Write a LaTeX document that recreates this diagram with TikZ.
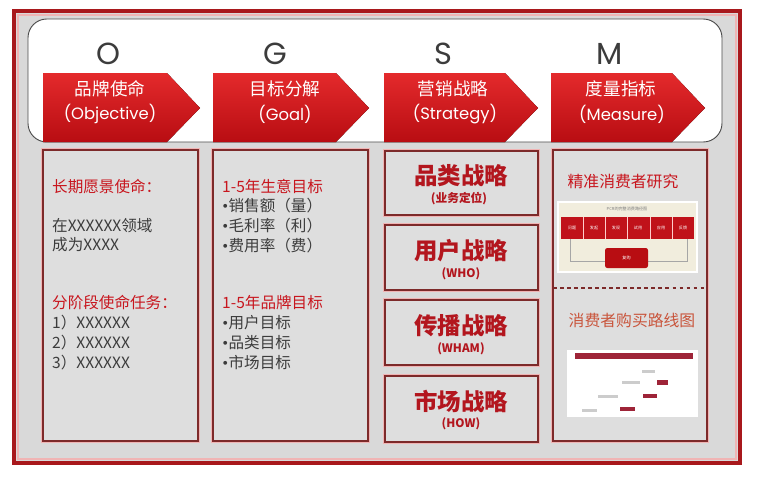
\documentclass[tikz,border=0pt]{standalone}
\usepackage{fontspec}
\setmainfont{Noto Sans CJK SC}
\newfontfamily\latinfont{Poppins}
\definecolor{framered}{HTML}{A8181C}
\definecolor{glowpink}{HTML}{F0B4B4}
\definecolor{bggray}{HTML}{D9D9D9}
\definecolor{panelgray}{HTML}{DEDEDE}
\definecolor{panelline}{HTML}{7D2A2A}
\definecolor{arrowtop}{HTML}{E42A2C}
\definecolor{arrowbot}{HTML}{B80D12}
\definecolor{headred}{HTML}{C8161E}
\definecolor{bodygray}{HTML}{3C3C3C}
\definecolor{stratred}{HTML}{B3161E}
\definecolor{routered}{HTML}{C9553C}
\definecolor{beige}{HTML}{F1EDDD}
\definecolor{bandred}{HTML}{C0121A}
\definecolor{barred}{HTML}{9E2438}
\newcommand{\bul}{{\latinfont •}}
\begin{document}
\begin{tikzpicture}[x=0.03cm,y=-0.03cm,
	panel/.style={draw=panelline, line width=1.1pt, fill=panelgray, preaction={draw=glowpink, line width=3.5pt}},
	arrowbox/.style={top color=arrowtop, bottom color=arrowbot, draw=none},
	letter/.style={font=\latinfont\fontsize{26}{26}\selectfont, text=bodygray, inner sep=0pt},
	arrowcn/.style={font=\fontsize{15}{15}\selectfont, text=white, inner sep=0pt},
	arrowen/.style={font=\latinfont\fontsize{14}{14}\selectfont, text=white, inner sep=0pt},
	body/.style={font=\fontsize{13.3}{13.3}\selectfont, text=bodygray, anchor=west, inner sep=0pt},
	head/.style={body, text=headred},
	strat/.style={font=\bfseries\fontsize{20}{20}\selectfont, text=stratred, inner sep=0pt},
	stratsub/.style={font=\bfseries\fontsize{10}{10}\selectfont, text=stratred, inner sep=0pt},
	tiny/.style={font=\fontsize{3.5}{3.5}\selectfont, text=white, inner sep=0pt}]
	\useasboundingbox (0,0) rectangle (777,477);
	\fill[white] (0,0) rectangle (777,477);
	
	% frame and top band
	\draw[framered, line width=3.5pt, fill=bggray] (14,11) rectangle (740,463);
	\draw[glowpink, line width=2pt] (18,15) rectangle (736,459);
	\draw[black!70, line width=0.8pt, fill=white, rounded corners=16] (28,19) rectangle (722,142);
	
	\node[letter] (o) at (108,54) {O};
	\node[letter] (g) at (275,54) {G};
	\node[letter] (s) at (443,54) {S};
	\node[letter] (m) at (610,54) {M};
	
	\fill[arrowbox] (43,73) -- (167,73) -- (200,108) -- (167,142) -- (43,142) -- cycle;
	\fill[arrowbox] (213,73) -- (336,73) -- (369,108) -- (336,142) -- (213,142) -- cycle;
	\fill[arrowbox] (384,73) -- (505,73) -- (538,108) -- (505,142) -- (384,142) -- cycle;
	\fill[arrowbox] (551,73) -- (672,73) -- (705,108) -- (672,142) -- (551,142) -- cycle;
	
	\node[arrowcn] (ocn) at (110,89) {品牌使命};
	\node[arrowen] (oen) at (110,114) {(Objective)};
	\node[arrowcn] (gcn) at (285,89) {目标分解};
	\node[arrowen] (gen) at (285,114) {(Goal)};
	\node[arrowcn] (scn) at (453,89) {营销战略};
	\node[arrowen] (sen) at (455,114) {(Strategy)};
	\node[arrowcn] (mcn) at (621,89) {度量指标};
	\node[arrowen] (men) at (622,114) {(Measure)};
	
	% panels
	\draw[panel] (43,150) rectangle (198,441);
	\draw[panel] (213,150) rectangle (368,441);
	\draw[panel] (385,151) rectangle (538,215);
	\draw[panel] (385,225) rectangle (538,290);
	\draw[panel] (385,300) rectangle (538,365);
	\draw[panel] (385,376) rectangle (538,442);
	\draw[panel] (553,150) rectangle (707,441);
	\draw[panelline, dashed, line width=1pt] (553,288) -- (707,288);
	
	% objective
	\node[head] (vision) at (52,187) {长期愿景使命：};
	\node[body] (vis1) at (52,226) {在XXXXXX领域};
	\node[body] (vis2) at (52,245) {成为XXXX};
	\node[head] (stage) at (52,303) {分阶段使命任务：};
	\node[body] (st1) at (52,323) {1）XXXXXX};
	\node[body] (st2) at (52,343) {2）XXXXXX};
	\node[body] (st3) at (52,363) {3）XXXXXX};
	
	% goal
	\node[head] (biz) at (222,187) {1-5年生意目标};
	\node[body] (biz1) at (222,206) {\bul 销售额（量）};
	\node[body] (biz2) at (222,226) {\bul 毛利率（利）};
	\node[body] (biz3) at (222,246) {\bul 费用率（费）};
	\node[head] (brand) at (222,303) {1-5年品牌目标};
	\node[body] (brand1) at (222,323) {\bul 用户目标};
	\node[body] (brand2) at (222,343) {\bul 品类目标};
	\node[body] (brand3) at (222,363) {\bul 市场目标};
	
	% strategy
	\node[strat] (cat) at (461,176) {品类战略};
	\node[stratsub] (catsub) at (459,199) {(业务定位)};
	\node[strat] (user) at (461,251) {用户战略};
	\node[stratsub] (usersub) at (461,274) {(WHO)};
	\node[strat] (comm) at (461,326) {传播战略};
	\node[stratsub] (commsub) at (461,349) {(WHAM)};
	\node[strat] (mkt) at (461,401) {市场战略};
	\node[stratsub] (mktsub) at (461,424) {(HOW)};
	
	% measure
	\node[font=\fontsize{13.5}{13.5}\selectfont, text=headred, inner sep=0pt] (research) at (623,181) {精准消费者研究};
	\draw[white, line width=1pt, fill=beige] (558,202) rectangle (697,272);
	\node[tiny, text=black!50] (pcr) at (627,209) {PCR的完整消费路径图};
	\fill[bandred] (561,217) rectangle (694,239);
	\draw[white!80!red, line width=0.4pt] (583,217) -- (583,239);
	\draw[white!80!red, line width=0.4pt] (605,217) -- (605,239);
	\draw[white!80!red, line width=0.4pt] (627,217) -- (627,239);
	\draw[white!80!red, line width=0.4pt] (650,217) -- (650,239);
	\draw[white!80!red, line width=0.4pt] (672,217) -- (672,239);
	\node[tiny] (p1) at (572,228) {问题};
	\node[tiny] (p2) at (594,228) {发起};
	\node[tiny] (p3) at (616,228) {发现};
	\node[tiny] (p4) at (638,228) {试用};
	\node[tiny] (p5) at (661,228) {应用};
	\node[tiny] (p6) at (683,228) {反馈};
	\draw[black!35, line width=0.4pt] (570,239) -- (570,261) -- (605,261);
	\draw[black!35, line width=0.4pt] (687,239) -- (687,261) -- (648,261);
	\fill[arrowbot, rounded corners=2] (605,248) rectangle (648,268);
	\node[tiny] (back) at (626.5,258) {复购};
	
	\node[font=\fontsize{13.5}{13.5}\selectfont, text=routered, inner sep=0pt] (route) at (632,320) {消费者购买路线图};
	\fill[white] (567,350) rectangle (698,417);
	\fill[barred] (575,353) rectangle (693,359);
	\fill[black!20] (642,370) rectangle (655,372.5);
	\fill[barred] (657,380) rectangle (668,385);
	\fill[black!20] (622,381) rectangle (640,383.5);
	\fill[barred] (643,394) rectangle (657,398);
	\fill[black!20] (598,395) rectangle (618,397.5);
	\fill[barred] (620,407) rectangle (635,411);
	\fill[black!20] (582,409) rectangle (597,411.5);
\end{tikzpicture}
\end{document}
